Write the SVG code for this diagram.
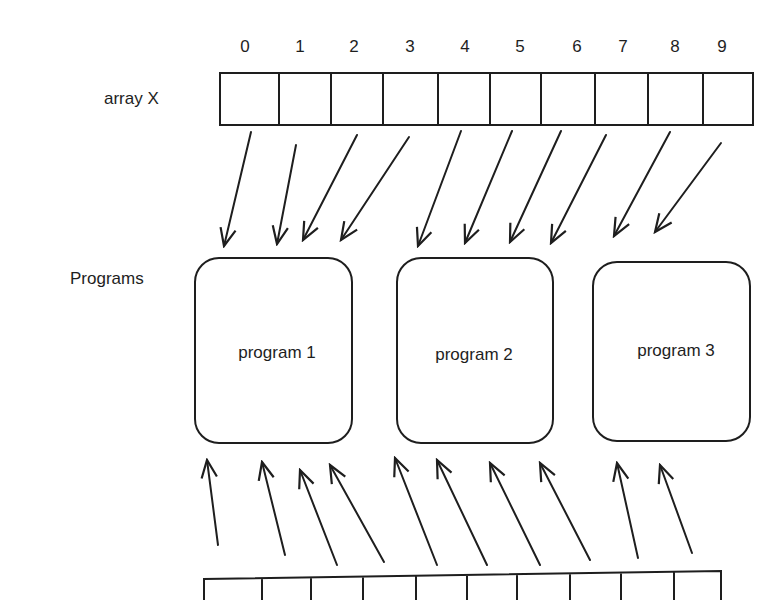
<svg xmlns="http://www.w3.org/2000/svg" width="782" height="600" viewBox="0 0 782 600">
<defs>
<style>
.t{font-family:"Liberation Sans",Arial,sans-serif;font-size:17px;fill:#1e1e1e}
.n{font-family:"Liberation Sans",Arial,sans-serif;font-size:17px;fill:#1e1e1e;text-anchor:middle}
.s{fill:none;stroke:#1e1e1e;stroke-width:2}
.c{fill:none;stroke:#1e1e1e;stroke-width:2;stroke-linecap:round;marker-end:url(#a)}
</style>
<marker id="a" viewBox="0 0 20 20" refX="18" refY="10" markerWidth="22" markerHeight="22" markerUnits="userSpaceOnUse" orient="auto"><path d="M2,3 L18,10 L2,17" fill="none" stroke="#1e1e1e" stroke-width="2"/></marker>
</defs>
<rect width="782" height="600" fill="#fff"/>
<g id="labels">
<text class="t" x="104" y="104">array X</text>
<text class="t" x="70" y="284">Programs</text>
<g class="n"><text x="245" y="52">0</text><text x="300" y="52">1</text><text x="354" y="52">2</text><text x="410" y="52">3</text><text x="465" y="52">4</text><text x="520" y="52">5</text><text x="577" y="52">6</text><text x="623" y="52">7</text><text x="675" y="52">8</text><text x="722" y="52">9</text></g>
</g>
<g id="arrayX">
<rect class="s" x="220" y="73" width="533" height="52"/>
<path class="s" d="M279,73V125M331,73V125M383,73V125M438,73V125M490,73V125M541,73V125M595,73V125M648,73V125M703,73V125"/>
</g>
<g id="arrayY">
<path class="s" d="M204,600V579L721,571V600M262,600V578M311,600V577M363,600V577M416,600V576M467,600V575M517,600V574M570,600V573M621,600V572M674,600V571"/>
</g>
<g id="program1"><rect class="s" x="195" y="258" width="157" height="185" rx="24"/><text class="n" x="277" y="358">program 1</text></g>
<g id="program2"><rect class="s" x="397" y="258" width="156" height="185" rx="24"/><text class="n" x="474" y="360">program 2</text></g>
<g id="program3"><rect class="s" x="593" y="262" width="157" height="179" rx="24"/><text class="n" x="676" y="356">program 3</text></g>
<g id="connectors">
<path class="c" d="M251,132L224,246"/>
<path class="c" d="M296,145L277,244"/>
<path class="c" d="M357,135L303,240"/>
<path class="c" d="M409,137L341,240"/>
<path class="c" d="M461,131L418,246"/>
<path class="c" d="M512,131L465,243"/>
<path class="c" d="M561,131L510,242"/>
<path class="c" d="M606,135L551,243"/>
<path class="c" d="M670,132L614,236"/>
<path class="c" d="M721,143L655,232"/>
<path class="c" d="M218,545L207,460"/>
<path class="c" d="M285,555L262,462"/>
<path class="c" d="M337,565L300,470"/>
<path class="c" d="M384,562L330,465"/>
<path class="c" d="M437,565L395,458"/>
<path class="c" d="M487,565L437,460"/>
<path class="c" d="M540,565L490,463"/>
<path class="c" d="M590,560L540,463"/>
<path class="c" d="M638,558L617,463"/>
<path class="c" d="M692,553L660,465"/>
</g>
</svg>
